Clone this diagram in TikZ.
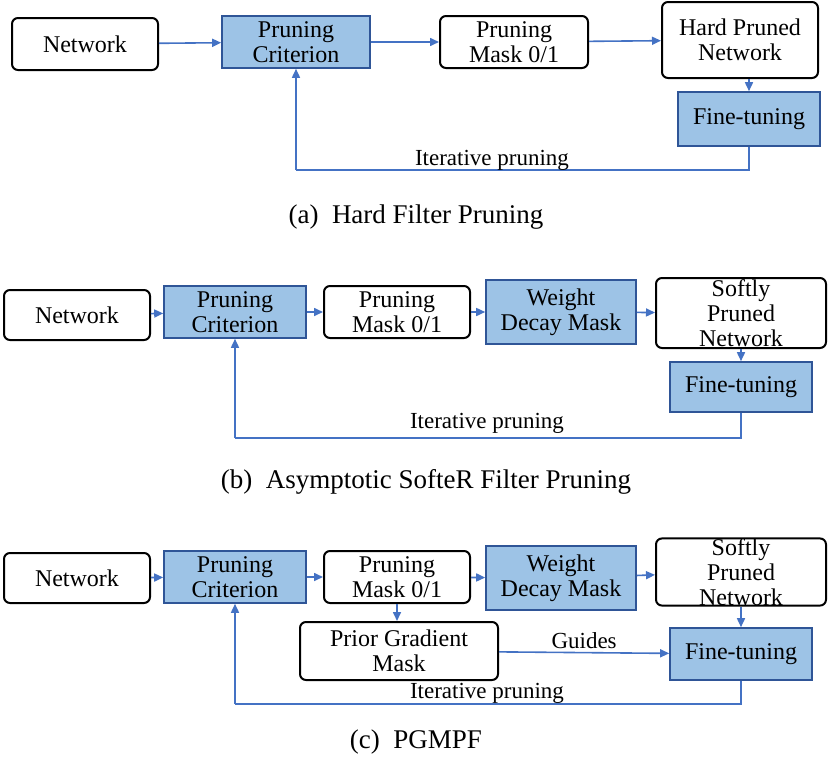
\documentclass[tikz,border=0pt]{standalone}
\usepackage{fontspec}
\setmainfont{Liberation Serif}
\newfontfamily\tnr{Liberation Serif}
\usetikzlibrary{arrows.meta}
\definecolor{boxfill}{HTML}{9DC3E6}
\definecolor{boxline}{HTML}{2F5597}
\definecolor{flow}{HTML}{4472C4}
\tikzset{
  box/.style={draw=black, line width=2pt, rounded corners=6pt, align=center, inner sep=0pt,
    font=\tnr\fontsize{24}{25}\selectfont},
  crit/.style={draw=boxline, line width=1.6pt, fill=boxfill, align=center, inner sep=0pt,
    font=\tnr\fontsize{24}{25}\selectfont},
  flowline/.style={draw=flow, line width=1.6pt, -{Triangle[length=9pt,width=8pt]}},
  loopline/.style={draw=flow, line width=1.6pt},
  caption/.style={font=\tnr\fontsize{27}{28}\selectfont},
  lbl/.style={font=\tnr\fontsize{23}{24}\selectfont}
}
\begin{document}
\begin{tikzpicture}[x=1pt,y=-1pt]
\useasboundingbox (0,0) rectangle (833,771);
% (a) hard filter pruning
\node [box, minimum width=146pt, minimum height=52pt] (netA) at (85,44) {Network};
\node [crit, minimum width=148pt, minimum height=52pt] (critA) at (296,42) {Pruning\\Criterion};
\node [box, minimum width=148pt, minimum height=52pt] (maskA) at (514,42) {Pruning\\Mask 0/1};
\node [box, minimum width=156pt, minimum height=76pt] (hardA) at (740,40) {Hard Pruned\\Network};
\node [crit, minimum width=142pt, minimum height=54pt] (fineA) at (749,119) {Fine-tuning};
\draw [flowline] (netA) -- (critA);
\draw [flowline] (critA) -- (maskA);
\draw [flowline] (maskA) -- (hardA);
\draw [flowline] (hardA.south -| fineA) -- (fineA);
\coordinate (loopA) at (749,170);
\draw [loopline] (fineA.south) -- (loopA) -- (loopA -| critA) edge [flowline] (critA.south);
\node [lbl] at (492,160) {Iterative pruning};
\node [caption] at (416,217) {(a)\ \ Hard Filter Pruning};
% (b) asymptotic softer filter pruning
\node [box, minimum width=146pt, minimum height=50pt] (netB) at (77,315) {Network};
\node [crit, minimum width=142pt, minimum height=52pt] (critB) at (235,312) {Pruning\\Criterion};
\node [box, minimum width=146pt, minimum height=52pt] (maskB) at (397,312) {Pruning\\Mask 0/1};
\node [crit, minimum width=150pt, minimum height=64pt] (decayB) at (561,312) {Weight\\Decay Mask};
\node [box, minimum width=170pt, minimum height=70pt] (softB) at (741,313) {Softly\\Pruned\\Network};
\node [crit, minimum width=142pt, minimum height=50pt] (fineB) at (741,387) {Fine-tuning};
\draw [flowline] (netB) -- (critB);
\draw [flowline] (critB) -- (maskB);
\draw [flowline] (maskB) -- (decayB);
\draw [flowline] (decayB) -- (softB);
\draw [flowline] (softB) -- (fineB);
\coordinate (loopB) at (741,438);
\draw [loopline] (fineB.south) -- (loopB) -- (loopB -| critB) edge [flowline] (critB.south);
\node [lbl] at (487,423) {Iterative pruning};
\node [caption] at (426,482) {(b)\ \ Asymptotic SofteR Filter Pruning};
% (c) PGMPF
\node [box, minimum width=146pt, minimum height=50pt] (netC) at (77,578) {Network};
\node [crit, minimum width=142pt, minimum height=52pt] (critC) at (235,577) {Pruning\\Criterion};
\node [box, minimum width=146pt, minimum height=52pt] (maskC) at (397,577) {Pruning\\Mask 0/1};
\node [crit, minimum width=150pt, minimum height=64pt] (decayC) at (561,578) {Weight\\Decay Mask};
\node [box, minimum width=170pt, minimum height=66pt] (softC) at (741,572) {Softly\\Pruned\\Network};
\node [box, minimum width=198pt, minimum height=58pt] (priorC) at (399,651) {Prior Gradient\\Mask};
\node [crit, minimum width=142pt, minimum height=52pt] (fineC) at (741,654) {Fine-tuning};
\draw [flowline] (netC) -- (critC);
\draw [flowline] (critC) -- (maskC);
\draw [flowline] (maskC) -- (decayC);
\draw [flowline] (decayC) -- (softC);
\draw [flowline] (softC) -- (fineC);
\draw [flowline] (maskC.south) -- (maskC.south |- priorC.north);
\draw [flowline] (priorC) -- node [lbl, above] {Guides} (fineC);
\coordinate (loopC) at (741,704);
\draw [loopline] (fineC.south) -- (loopC) -- (loopC -| critC) edge [flowline] (critC.south);
\node [lbl] at (487,693) {Iterative pruning};
\node [caption] at (416,742) {(c)\ \ PGMPF};
\end{tikzpicture}
\end{document}
